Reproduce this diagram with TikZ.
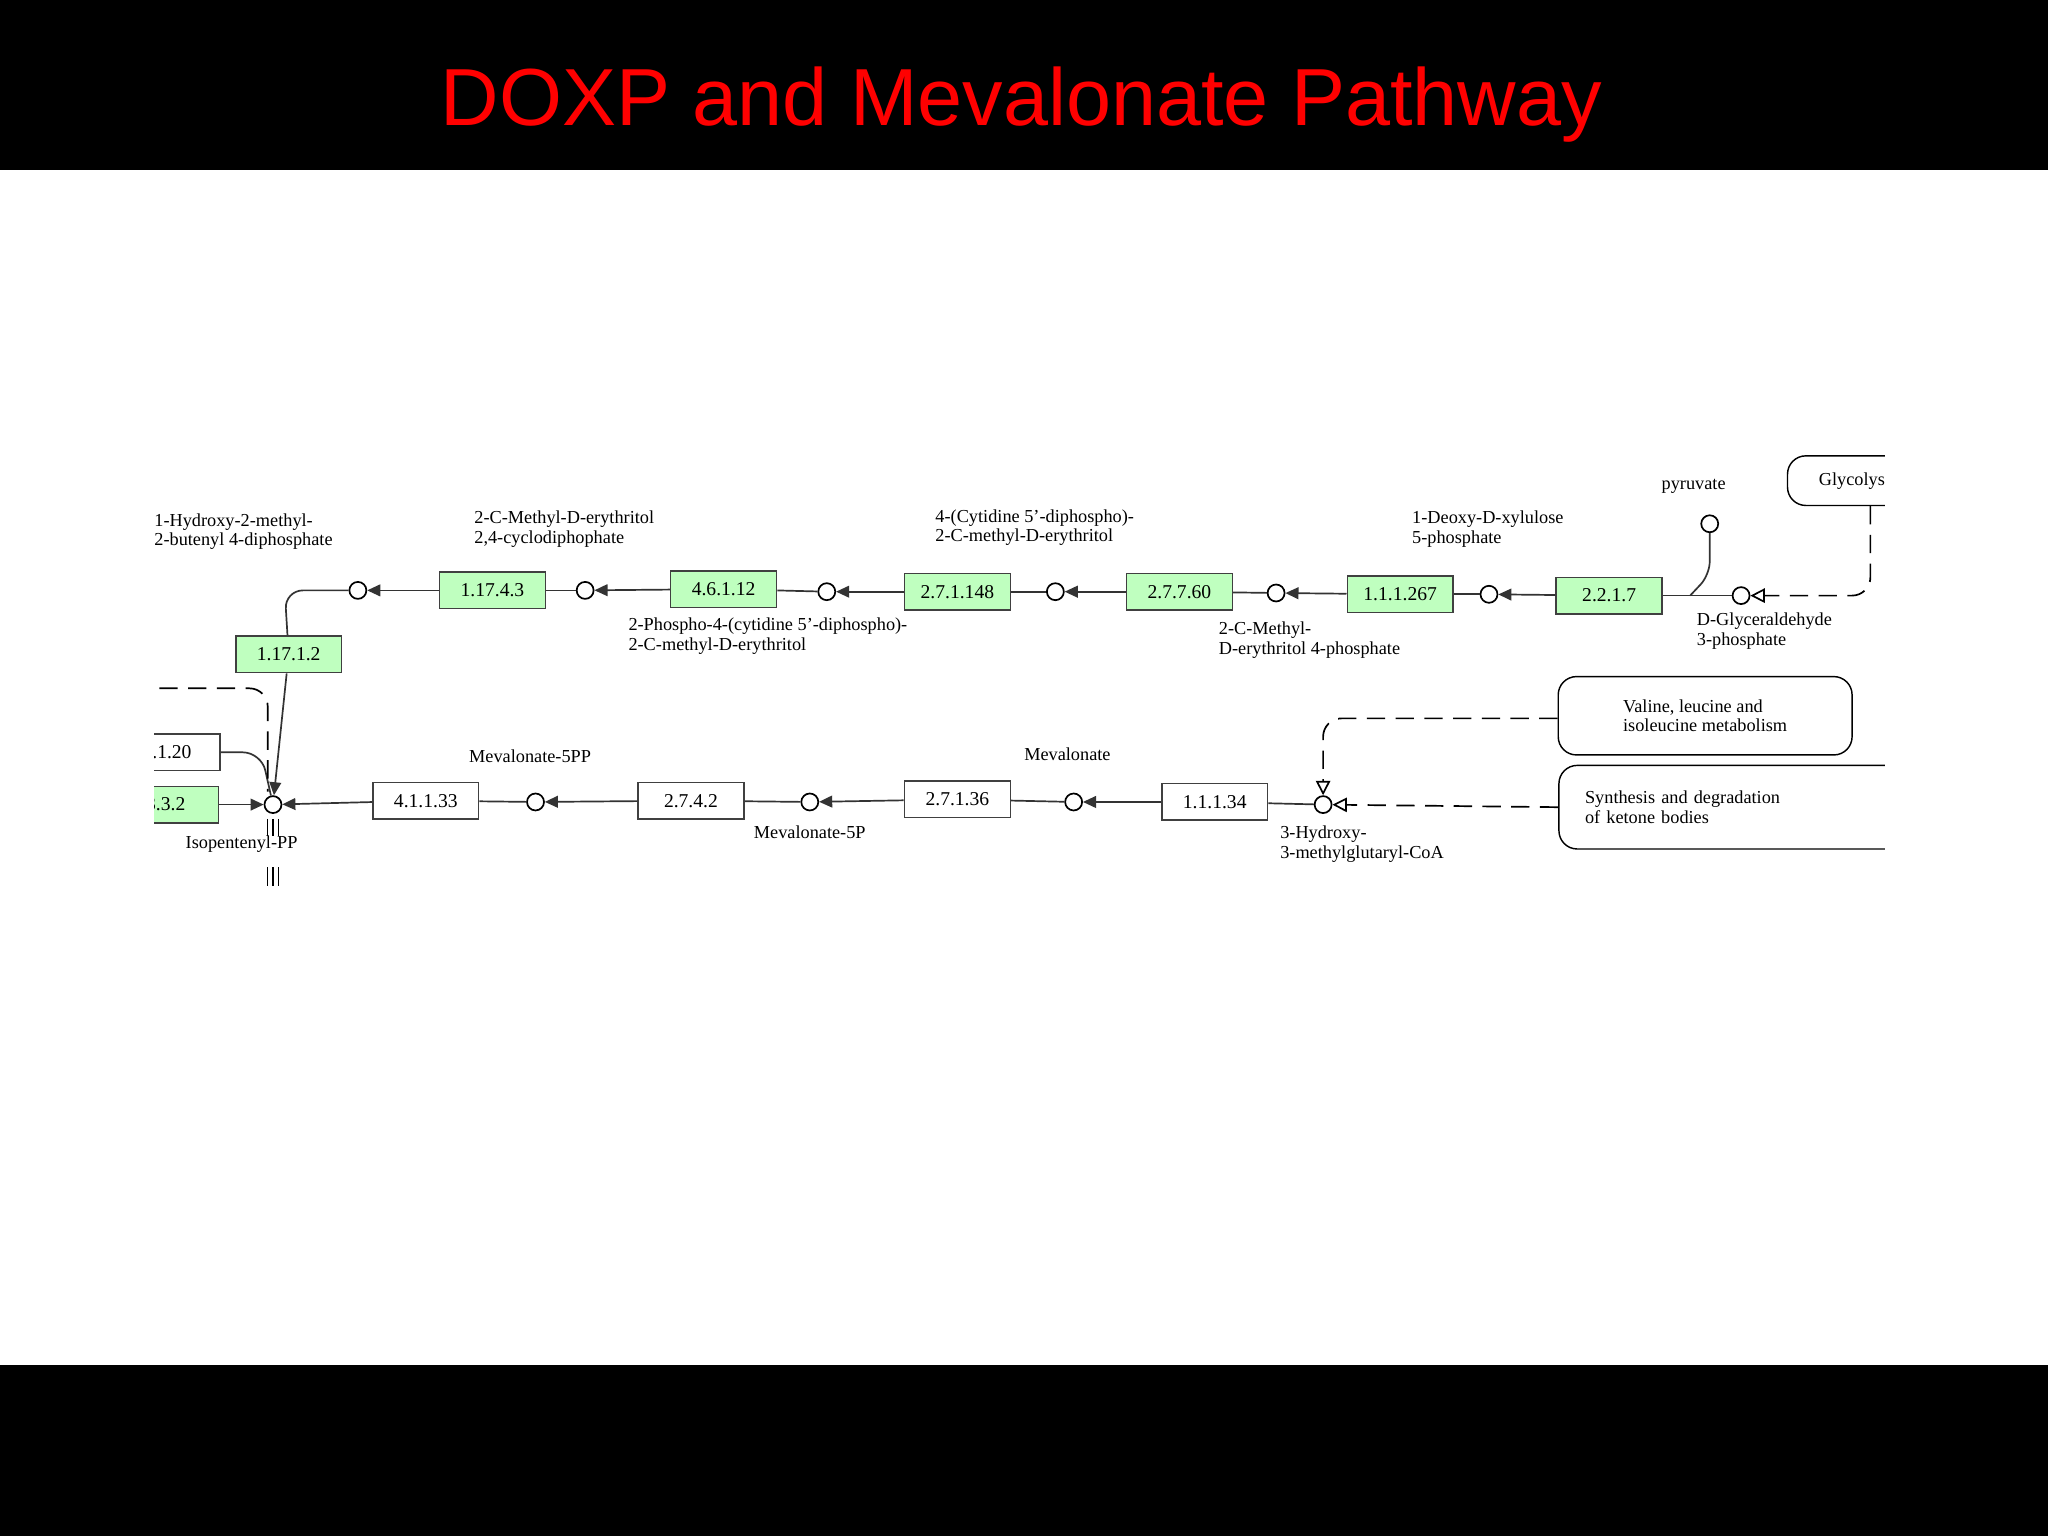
\documentclass[tikz,border=0pt]{standalone}
\usepackage{fontspec}
\setmainfont{Liberation Serif}
\newfontfamily\titlefont{Liberation Sans}
\usetikzlibrary{arrows.meta}
\begin{document}
\begin{tikzpicture}[x=1pt,y=-1pt,
  ec/.style={draw=black!75,line width=1.2pt,minimum width=81pt,minimum height=28pt,inner sep=0pt,font=\fontsize{15}{15}\selectfont},
  gbox/.style={ec,fill=green!25},
  wbox/.style={ec,fill=white},
  cpd/.style={circle,draw,line width=1.3pt,minimum size=13pt,inner sep=0pt,fill=white},
  lbl/.style={font=\fontsize{14}{15}\selectfont,align=left,inner sep=0pt},
  mbox/.style={draw,line width=1.1pt,rounded corners=14pt,inner sep=0pt,font=\fontsize{14}{15}\selectfont,align=left},
  ln/.style={line width=1.3pt,draw=black!80},
  rx/.style={ln,-{Triangle[length=10pt,width=9pt]}},
  dsh/.style={line width=1.3pt,dash pattern=on 14pt off 8pt},
  odsh/.style={dsh,-{Triangle[open,length=11pt,width=11pt]}}]
\fill[black] (0,0) rectangle (1568,1176);
\fill[white] (0,130) rectangle (1568,1045);
\node[text=red,font=\titlefont\fontsize{62}{62}\selectfont] (title) at (782,80) {DOXP and Mevalonate Pathway};
\begin{scope}
\clip (118,330) rectangle (1443,700);
% top row
\node[cpd] (c1) at (274,452) {};
\node[gbox] (e1) at (377,452) {1.17.4.3};
\node[cpd] (c2) at (448,452) {};
\node[gbox] (e2) at (554,451) {4.6.1.12};
\node[cpd] (c3) at (633,453) {};
\node[gbox] (e3) at (733,453) {2.7.1.148};
\node[cpd] (c4) at (808,453) {};
\node[gbox] (e4) at (903,453) {2.7.7.60};
\node[cpd] (c5) at (977,454) {};
\node[gbox] (e5) at (1072,455) {1.1.1.267};
\node[cpd] (c6) at (1140,455) {};
\node[gbox] (e6) at (1232,456) {2.2.1.7};
\node[cpd] (c7) at (1333,456) {};
\node[cpd] (pyr) at (1309,401) {};
\node[mbox,minimum width=120pt,minimum height=38pt,anchor=west,text width=100pt] (gly) at (1368,368) {\hspace*{14pt}Glycolysis};
\node[gbox] (e7) at (221,501) {1.17.1.2};
% bottom row
\node[cpd] (ipp) at (209,616) {};
\node[wbox] (b1) at (326,613) {4.1.1.33};
\node[cpd] (d1) at (410,614) {};
\node[wbox] (b2) at (529,613) {2.7.4.2};
\node[cpd] (d2) at (620,614) {};
\node[wbox] (b3) at (733,612) {2.7.1.36};
\node[cpd] (d3) at (822,614) {};
\node[wbox] (b4) at (930,614) {1.1.1.34};
\node[cpd] (hmg) at (1013,616) {};
\node[mbox,minimum width=225pt,minimum height=60pt] (val) at (1305.5,548) {Valine, leucine and\\isoleucine metabolism};
\node[mbox,minimum width=290pt,minimum height=64pt,anchor=west,text width=270pt] (ket) at (1193,618) {\hspace*{10pt}Synthesis and degradation\\\hspace*{10pt}of ketone bodies};
\node[wbox,anchor=east] (l1) at (169,576) {5.1.20};
\node[gbox,anchor=east] (l2) at (168,616) {3.3.2};
% edges top
\draw[ln] (e1) -- (c2);
\draw[rx] (e1) -- (c1);
\draw[ln] (e2) -- (c3);
\draw[rx] (e2) -- (c2);
\draw[ln] (e3) -- (c4);
\draw[rx] (e3) -- (c3);
\draw[ln] (e4) -- (c5);
\draw[rx] (e4) -- (c4);
\draw[ln] (e5) -- (c6);
\draw[rx] (e5) -- (c5);
\draw[ln] (e6) -- (c7);
\draw[rx] (e6) -- (c6);
\draw[ln,rounded corners=10pt] (pyr) -- (1309,440) -- (1294,456);
\draw[odsh,rounded corners=14pt] (gly.south -| 1432,0) -- (1432,456) -- (c7);
\draw[ln,rounded corners=14pt] (c1) -- (218,452) -- (e7);
\draw[rx] (e7) -- (ipp);
% edges bottom
\draw[ln] (b1) -- (d1);
\draw[rx] (b1) -- (ipp);
\draw[ln] (b2) -- (d2);
\draw[rx] (b2) -- (d1);
\draw[ln] (b3) -- (d3);
\draw[rx] (b3) -- (d2);
\draw[ln] (b4) -- (hmg);
\draw[rx] (b4) -- (d3);
\draw[odsh,rounded corners=14pt] (val.west |- 0,550) -- (1013,550) -- (hmg);
\draw[odsh] (ket.west) -- (hmg);
\draw[ln,rounded corners=14pt] (l1) -- (200,576) -- (ipp);
\draw[rx] (l2) -- (ipp);
\draw[dsh,rounded corners=14pt] (100,527) -- (205,527) -- (205,606);
% ||| marks
\foreach \dx in {-4,0,4} {\draw[line width=1pt] (209+\dx,627) -- (209+\dx,640); \draw[line width=1pt] (209+\dx,664) -- (209+\dx,678);}
% labels
\node[lbl,anchor=north west] (t1) at (118,393) {1-Hydroxy-2-methyl-\\2-butenyl 4-diphosphate};
\node[lbl,anchor=north west] (t2) at (363,391) {2-C-Methyl-D-erythritol\\2,4-cyclodiphophate};
\node[lbl,anchor=north west] (t3) at (481,473) {2-Phospho-4-(cytidine 5'-diphospho)-\\2-C-methyl-D-erythritol};
\node[lbl,anchor=north west] (t4) at (716,390) {4-(Cytidine 5'-diphospho)-\\2-C-methyl-D-erythritol};
\node[lbl,anchor=north west] (t5) at (933,476) {2-C-Methyl-\\D-erythritol 4-phosphate};
\node[lbl,anchor=north west] (t6) at (1081,391) {1-Deoxy-D-xylulose\\5-phosphate};
\node[lbl,anchor=north west] (t7) at (1272,367) {pyruvate};
\node[lbl,anchor=north west] (t8) at (1299,469) {D-Glyceraldehyde\\3-phosphate};
\node[lbl,anchor=north west] (t9) at (359,574) {Mevalonate-5PP};
\node[lbl,anchor=north west] (t10) at (577,632) {Mevalonate-5P};
\node[lbl,anchor=north west] (t11) at (784,572) {Mevalonate};
\node[lbl,anchor=north west] (t12) at (980,632) {3-Hydroxy-\\3-methylglutaryl-CoA};
\node[lbl,anchor=north west] (t13) at (142,640) {Isopentenyl-PP};
\end{scope}
\end{tikzpicture}
\end{document}
